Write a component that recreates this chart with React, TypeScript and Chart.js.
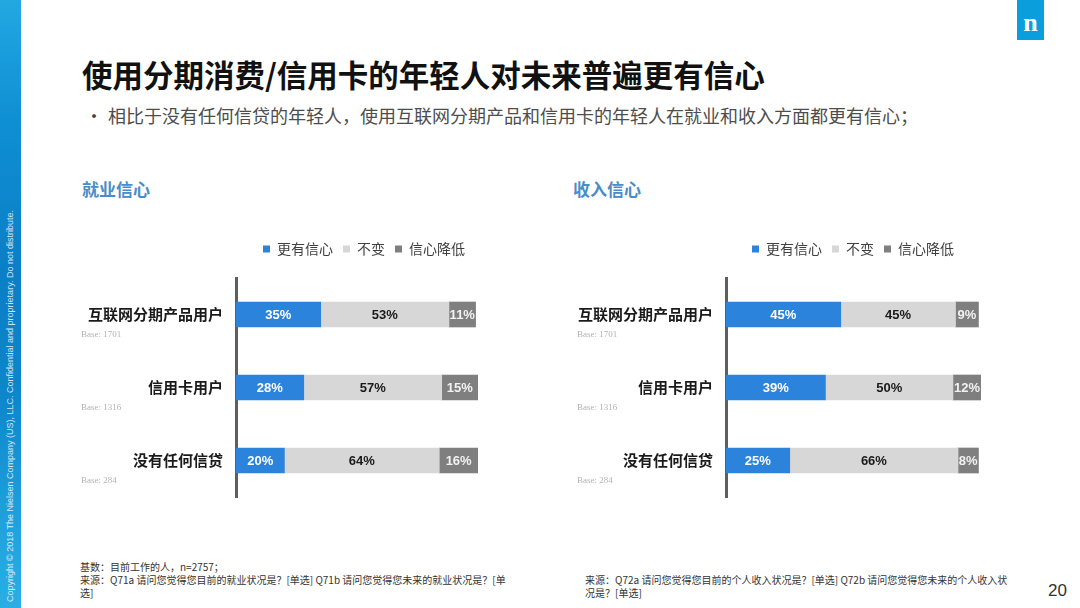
import React, { useEffect, useRef } from 'react';
import { Chart, registerables } from 'chart.js';

Chart.register(...registerables);

const CJK = "'Noto Sans CJK SC', 'Noto Sans', sans-serif";

const categories = ['互联网分期产品用户', '信用卡用户', '没有任何信贷'];
const baseLabels = ['Base: 1701', 'Base: 1316', 'Base: 284'];
const seriesNames = ['更有信心', '不变', '信心降低'];
const seriesColors = ['#2b83db', '#d7d7d7', '#7f7f7f'];
const labelColors = ['#ffffff', '#1a1a1a', '#f2f2f2'];

const jobMore = [35, 28, 20];
const jobSame = [53, 57, 64];
const jobLess = [11, 15, 16];

const incomeMore = [45, 39, 25];
const incomeSame = [45, 50, 66];
const incomeLess = [9, 12, 8];

if (typeof document !== 'undefined') {
  document.body.style.margin = '0';
}

function makeValueLabels() {
  return {
    id: 'valueLabels',
    afterDatasetsDraw(chart: any) {
      const ctx = chart.ctx;
      const area = chart.chartArea;
      ctx.save();
      ctx.font = "bold 13px 'Liberation Sans', Arial, sans-serif";
      ctx.textAlign = 'center';
      ctx.textBaseline = 'middle';
      chart.data.datasets.forEach((ds: any, di: number) => {
        const meta = chart.getDatasetMeta(di);
        meta.data.forEach((el: any, i: number) => {
          const v = ds.data[i];
          const x1 = Math.min(el.x, area.right);
          const x0 = Math.max(el.base, area.left);
          ctx.fillStyle = labelColors[di];
          ctx.fillText(v + '%', (x0 + x1) / 2, el.y + 1);
        });
      });
      ctx.restore();
    },
  };
}

function makeBaseLabels(x: number) {
  return {
    id: 'baseLabels',
    afterDraw(chart: any) {
      const ctx = chart.ctx;
      const y = chart.scales.y;
      ctx.save();
      ctx.font = "9px 'Liberation Serif', 'DejaVu Serif', serif";
      ctx.fillStyle = '#b3b3b3';
      ctx.textAlign = 'left';
      ctx.textBaseline = 'middle';
      baseLabels.forEach((t, i) => {
        ctx.fillText(t, x, y.getPixelForTick(i) + 20);
      });
      ctx.restore();
    },
  };
}

function makeLegendPos(x: number) {
  return {
    id: 'legendPos',
    afterLayout(chart: any) {
      const l = chart.legend;
      if (!l) return;
      l.left = x - 10;
      l.right = chart.width;
    },
  };
}

type BarProps = {
  left: number;
  top: number;
  width: number;
  height: number;
  yWidth: number;
  padRight: number;
  legendX: number;
  baseX: number;
  more: number[];
  same: number[];
  less: number[];
};

function StackedBar(p: BarProps) {
  const ref = useRef<HTMLCanvasElement | null>(null);
  useEffect(() => {
    if (!ref.current) return;
    const values = [p.more, p.same, p.less];
    const chart = new Chart(ref.current, {
      type: 'bar',
      data: {
        labels: categories,
        datasets: seriesNames.map((name, i) => ({
          label: name,
          data: values[i],
          backgroundColor: seriesColors[i],
          borderWidth: 0,
          barThickness: 25,
        })),
      },
      options: {
        indexAxis: 'y',
        animation: false,
        responsive: false,
        maintainAspectRatio: false,
        layout: { padding: { right: p.padRight, bottom: 3, left: 0, top: 0 } },
        scales: {
          x: {
            position: 'top',
            stacked: true,
            min: 0,
            max: 100,
            grid: { display: false, drawTicks: false },
            border: { display: false },
            ticks: { display: false },
            afterFit: (s: any) => {
              s.height = 12;
            },
          },
          y: {
            stacked: true,
            grid: { display: false, drawTicks: false },
            border: { display: true, color: '#5e5e5e', width: 3 },
            ticks: {
              padding: 13,
              color: '#1a1a1a',
              font: { family: CJK, size: 15, weight: 'bold' },
            },
            afterFit: (s: any) => {
              s.width = p.yWidth;
              s.paddingTop = 0;
              s.paddingBottom = 0;
            },
          },
        },
        plugins: {
          legend: {
            display: true,
            position: 'top',
            align: 'start',
            labels: {
              boxWidth: 7,
              boxHeight: 7,
              padding: 10,
              color: '#404040',
              font: { family: CJK, size: 14 },
            },
          },
          tooltip: { enabled: false },
        },
      },
      plugins: [makeValueLabels(), makeBaseLabels(p.baseX), makeLegendPos(p.legendX)],
    } as any);
    return () => chart.destroy();
  }, []);
  return (
    <div style={{ position: 'absolute', left: p.left, top: p.top, width: p.width, height: p.height }}>
      <canvas ref={ref} width={p.width} height={p.height} style={{ width: p.width, height: p.height }} />
    </div>
  );
}

const abs = (o: React.CSSProperties): React.CSSProperties => ({ position: 'absolute', whiteSpace: 'nowrap', ...o });

export default function App() {
  return (
    <div style={{ position: 'relative', width: 1080, height: 608, background: '#ffffff', overflow: 'hidden', fontFamily: CJK }}>
      <div
        style={abs({
          left: 0,
          top: 0,
          width: 21,
          height: 608,
          background: 'linear-gradient(180deg, #23a8e2 0%, #0f8fd3 20%, #0b7ec6 45%, #0d86cb 65%, #1fa0dc 85%, #2aaee4 100%)',
        })}
      />
      <div
        style={abs({
          left: 5,
          top: 602,
          fontFamily: "'Liberation Sans', Arial, sans-serif",
          fontSize: 9,
          lineHeight: '11px',
          color: 'rgba(255,255,255,0.8)',
          transform: 'rotate(-90deg)',
          transformOrigin: '0 0',
        })}
      >
        Copyright © 2018 The Nielsen Company (US), LLC. Confidential and proprietary. Do not distribute.
      </div>

      <div
        style={abs({
          left: 1017,
          top: 0,
          width: 27,
          height: 40,
          background: '#0a9fdc',
          color: '#ffffff',
          fontFamily: "'Liberation Serif', 'DejaVu Serif', serif",
          fontWeight: 'bold',
          fontSize: 26,
          lineHeight: '40px',
          textAlign: 'center',
        })}
      >
        <span style={{ position: 'relative', top: 3 }}>n</span>
      </div>

      <div style={abs({ left: 82, top: 56, fontSize: 30.5, lineHeight: '36px', fontWeight: 'bold', color: '#111111' })}>
        使用分期消费/信用卡的年轻人对未来普遍更有信心
      </div>
      <div style={abs({ left: 85, top: 103, fontSize: 18, lineHeight: '24px', color: '#404040' })}>•</div>
      <div style={abs({ left: 108, top: 103, fontSize: 18, lineHeight: '24px', color: '#4d4d4d' })}>
        相比于没有任何信贷的年轻人，使用互联网分期产品和信用卡的年轻人在就业和收入方面都更有信心；
      </div>

      <div style={abs({ left: 82, top: 178, fontSize: 17, lineHeight: '22px', fontWeight: 'bold', color: '#4a8cc8' })}>就业信心</div>
      <div style={abs({ left: 573, top: 178, fontSize: 17, lineHeight: '22px', fontWeight: 'bold', color: '#4a8cc8' })}>收入信心</div>

      <StackedBar
        left={70}
        top={232}
        width={420}
        height={268}
        yWidth={166}
        padRight={12}
        legendX={193}
        baseX={11}
        more={jobMore}
        same={jobSame}
        less={jobLess}
      />
      <StackedBar
        left={565}
        top={232}
        width={430}
        height={268}
        yWidth={161}
        padRight={14}
        legendX={187}
        baseX={12}
        more={incomeMore}
        same={incomeSame}
        less={incomeLess}
      />

      <div style={abs({ left: 80, top: 560, fontSize: 10, lineHeight: '13px', color: '#333333' })}>
        基数：目前工作的人，n=2757；
        <br />
        来源：Q71a 请问您觉得您目前的就业状况是？[单选] Q71b 请问您觉得您未来的就业状况是？[单
        <br />
        选]
      </div>
      <div style={abs({ left: 585, top: 573, fontSize: 10, lineHeight: '13px', color: '#333333' })}>
        来源：Q72a 请问您觉得您目前的个人收入状况是？[单选] Q72b 请问您觉得您未来的个人收入状
        <br />
        况是？[单选]
      </div>

      <div style={abs({ left: 1048, top: 581, fontSize: 17, lineHeight: '20px', color: '#333333', fontFamily: "'Liberation Sans', Arial, sans-serif" })}>
        20
      </div>
    </div>
  );
}
